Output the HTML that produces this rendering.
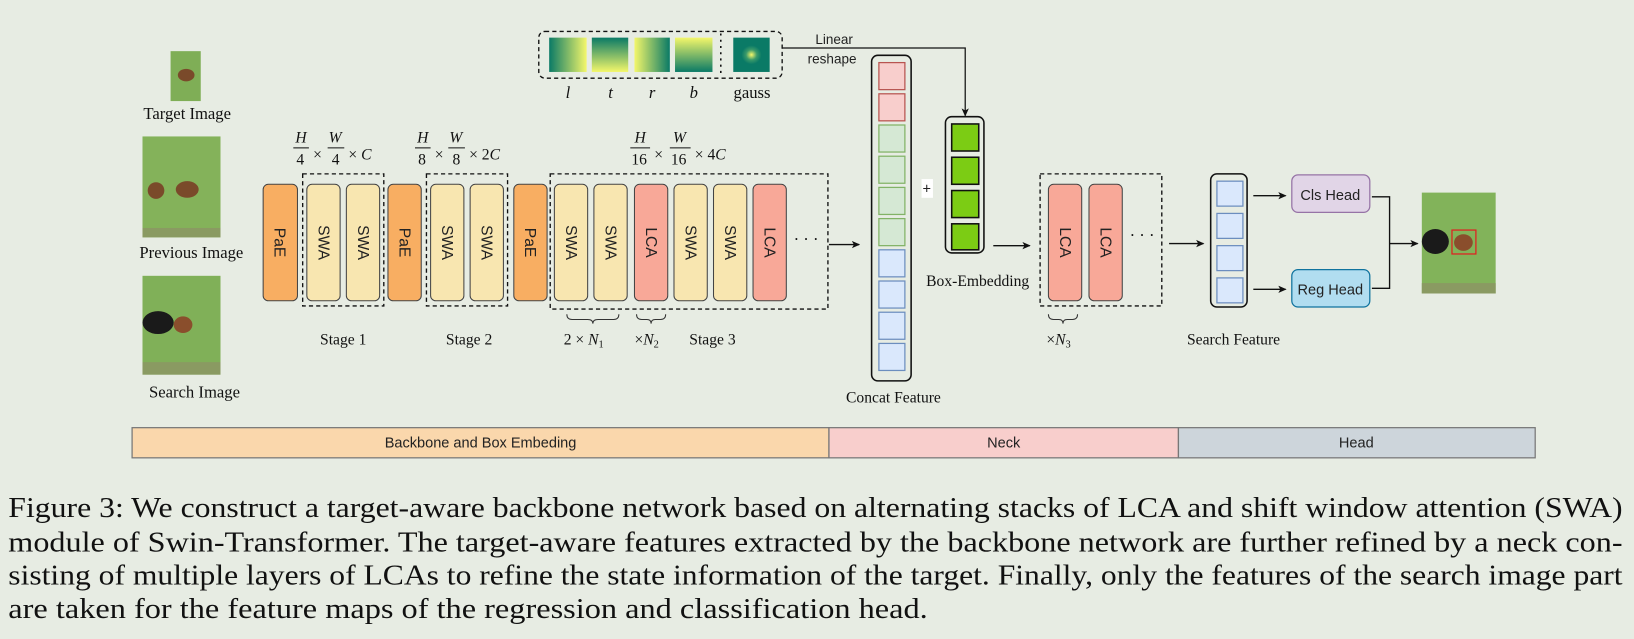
<!DOCTYPE html>
<html><head><meta charset="utf-8"><style>
html,body{margin:0;padding:0;background:#e7ece3;}
svg{display:block}
.s{font-family:"Liberation Serif",serif;fill:#111}
.a{font-family:"Liberation Sans",sans-serif;fill:#222}
</style></head><body>
<svg width="1634" height="639" viewBox="0 0 1571 614" xmlns="http://www.w3.org/2000/svg">
<defs>
<linearGradient id="gl" x1="0" x2="1" y1="0" y2="0"><stop offset="0" stop-color="#0a7a66"/><stop offset="1" stop-color="#f4f76a"/></linearGradient>
<linearGradient id="gr" x1="0" x2="1" y1="0" y2="0"><stop offset="0" stop-color="#f4f76a"/><stop offset="1" stop-color="#0a7a66"/></linearGradient>
<linearGradient id="gt" x1="0" x2="0" y1="0" y2="1"><stop offset="0" stop-color="#0a7a66"/><stop offset="1" stop-color="#f4f76a"/></linearGradient>
<linearGradient id="gb" x1="0" x2="0" y1="0" y2="1"><stop offset="0" stop-color="#f4f76a"/><stop offset="1" stop-color="#0a7a66"/></linearGradient>
<radialGradient id="gg"><stop offset="0" stop-color="#f7f86a"/><stop offset="0.3" stop-color="#3a9a6a"/><stop offset="0.55" stop-color="#0a7a66"/></radialGradient>
<marker id="ar" markerWidth="8" markerHeight="8" refX="7" refY="4" orient="auto" markerUnits="userSpaceOnUse"><path d="M0,0.5 L8,4 L0,7.5 L2,4 z" fill="#111"/></marker>
</defs>
<rect width="1571" height="614" fill="#e7ece3"/>

<!-- images -->
<rect x="164" y="49" width="29" height="48" fill="#7fae56"/>
<ellipse cx="179" cy="72" rx="8" ry="6" fill="#7a4a2a"/>
<text class="s" x="180" y="114" font-size="16" text-anchor="middle">Target Image</text>
<rect x="137" y="131" width="75" height="97" fill="#84b25a"/>
<rect x="137" y="219" width="75" height="9" fill="#8a9a62"/>
<ellipse cx="150" cy="183" rx="8" ry="8" fill="#7a4a2a"/><ellipse cx="180" cy="182" rx="11" ry="8" fill="#7a4a2a"/>
<text class="s" x="184" y="248" font-size="16" text-anchor="middle">Previous Image</text>
<rect x="137" y="265" width="75" height="95" fill="#80b058"/>
<rect x="137" y="348" width="75" height="12" fill="#8a9a62"/>
<ellipse cx="152" cy="310" rx="15" ry="11" fill="#1a1a1a"/><ellipse cx="176" cy="312" rx="9" ry="8" fill="#8a4e2c"/>
<text class="s" x="187" y="382" font-size="16" text-anchor="middle">Search Image</text>

<!-- gauss box -->
<rect x="518" y="30" width="234" height="45" rx="6" fill="none" stroke="#111" stroke-dasharray="4,3" stroke-width="1.3"/>
<rect x="528" y="36" width="36" height="33" fill="url(#gl)"/>
<rect x="569" y="36" width="35" height="33" fill="url(#gt)"/>
<rect x="610" y="36" width="34" height="33" fill="url(#gr)"/>
<rect x="649" y="36" width="36" height="33" fill="url(#gb)"/>
<line x1="693" y1="32" x2="693" y2="74" stroke="#111" stroke-dasharray="2,4" stroke-width="1.5"/>
<rect x="705" y="36" width="35" height="33" fill="url(#gg)"/>
<text class="s" x="546" y="94" font-size="16" font-style="italic" text-anchor="middle">l</text>
<text class="s" x="587" y="94" font-size="16" font-style="italic" text-anchor="middle">t</text>
<text class="s" x="627" y="94" font-size="16" font-style="italic" text-anchor="middle">r</text>
<text class="s" x="667" y="94" font-size="16" font-style="italic" text-anchor="middle">b</text>
<text class="s" x="723" y="94" font-size="16" text-anchor="middle">gauss</text>
<text class="a" x="802" y="42" font-size="13" text-anchor="middle">Linear</text>
<text class="a" x="800" y="61" font-size="13" text-anchor="middle">reshape</text>
<path d="M752,46 H928 V111" fill="none" stroke="#111" stroke-width="1.2" marker-end="url(#ar)"/>

<!-- dims labels -->
<g class="s" font-size="15" font-style="italic">
<text x="284" y="137">H</text><line x1="282" y1="142" x2="297" y2="142" stroke="#111"/><text x="285" y="158" font-style="normal">4</text>
<text x="301" y="153" font-style="normal">×</text>
<text x="316" y="137">W</text><line x1="315" y1="142" x2="331" y2="142" stroke="#111"/><text x="319" y="158" font-style="normal">4</text>
<text x="335" y="153"><tspan font-style="normal">× </tspan>C</text>
<text x="401" y="137">H</text><line x1="399" y1="142" x2="414" y2="142" stroke="#111"/><text x="402" y="158" font-style="normal">8</text>
<text x="418" y="153" font-style="normal">×</text>
<text x="432" y="137">W</text><line x1="431" y1="142" x2="447" y2="142" stroke="#111"/><text x="435" y="158" font-style="normal">8</text>
<text x="451" y="153"><tspan font-style="normal">× 2</tspan>C</text>
<text x="610" y="137">H</text><line x1="606" y1="142" x2="625" y2="142" stroke="#111"/><text x="607" y="158" font-style="normal">16</text>
<text x="629" y="153" font-style="normal">×</text>
<text x="647" y="137">W</text><line x1="644" y1="142" x2="664" y2="142" stroke="#111"/><text x="645" y="158" font-style="normal">16</text>
<text x="668" y="153"><tspan font-style="normal">× 4</tspan>C</text>
</g>

<!-- dashed groups -->
<g fill="none" stroke="#111" stroke-width="1.3" stroke-dasharray="4,3">
<rect x="291" y="167" width="78" height="127"/>
<rect x="410" y="167" width="78" height="127"/>
<rect x="529" y="167" width="267" height="130"/>
<rect x="1000" y="167" width="117" height="127"/>
</g>

<!-- blocks -->
<g stroke="#444" stroke-width="1">
<rect x="253" y="177" width="33" height="112" rx="5" fill="#f8ae62"/>
<rect x="295" y="177" width="32" height="112" rx="5" fill="#f8e6b0"/>
<rect x="333" y="177" width="32" height="112" rx="5" fill="#f8e6b0"/>
<rect x="373" y="177" width="32" height="112" rx="5" fill="#f8ae62"/>
<rect x="414" y="177" width="32" height="112" rx="5" fill="#f8e6b0"/>
<rect x="452" y="177" width="32" height="112" rx="5" fill="#f8e6b0"/>
<rect x="494" y="177" width="32" height="112" rx="5" fill="#f8ae62"/>
<rect x="533" y="177" width="32" height="112" rx="5" fill="#f8e6b0"/>
<rect x="571" y="177" width="32" height="112" rx="5" fill="#f8e6b0"/>
<rect x="610" y="177" width="32" height="112" rx="5" fill="#f8a898"/>
<rect x="648" y="177" width="32" height="112" rx="5" fill="#f8e6b0"/>
<rect x="686" y="177" width="32" height="112" rx="5" fill="#f8e6b0"/>
<rect x="724" y="177" width="32" height="112" rx="5" fill="#f8a898"/>
<rect x="1008" y="177" width="32" height="112" rx="5" fill="#f8a898"/>
<rect x="1047" y="177" width="32" height="112" rx="5" fill="#f8a898"/>
</g>
<g class="a" font-size="15" text-anchor="middle">
<text transform="translate(269,233) rotate(90)" dy="5">PaE</text>
<text transform="translate(311,233) rotate(90)" dy="5">SWA</text>
<text transform="translate(349,233) rotate(90)" dy="5">SWA</text>
<text transform="translate(389,233) rotate(90)" dy="5">PaE</text>
<text transform="translate(430,233) rotate(90)" dy="5">SWA</text>
<text transform="translate(468,233) rotate(90)" dy="5">SWA</text>
<text transform="translate(510,233) rotate(90)" dy="5">PaE</text>
<text transform="translate(549,233) rotate(90)" dy="5">SWA</text>
<text transform="translate(587,233) rotate(90)" dy="5">SWA</text>
<text transform="translate(626,233) rotate(90)" dy="5">LCA</text>
<text transform="translate(664,233) rotate(90)" dy="5">SWA</text>
<text transform="translate(702,233) rotate(90)" dy="5">SWA</text>
<text transform="translate(740,233) rotate(90)" dy="5">LCA</text>
<text transform="translate(1024,233) rotate(90)" dy="5">LCA</text>
<text transform="translate(1063,233) rotate(90)" dy="5">LCA</text>
</g>
<text class="s" x="775" y="235" font-size="16" text-anchor="middle">· · ·</text>
<text class="s" x="1098" y="231" font-size="16" text-anchor="middle">· · ·</text>

<!-- braces -->
<g fill="none" stroke="#333" stroke-width="1">
<path d="M545,302 q0,5 5,5 h15 q5,0 5,4 q0,-4 5,-4 h15 q5,0 5,-5"/>
<path d="M612,302 q0,5 5,5 h5 q4,0 4,4 q0,-4 4,-4 h5 q5,0 5,-5"/>
<path d="M1008,302 q0,5 5,5 h5 q4,0 4,4 q0,-4 4,-4 h5 q5,0 5,-5"/>
</g>
<g class="s" font-size="15">
<text x="330" y="331" text-anchor="middle">Stage 1</text>
<text x="451" y="331" text-anchor="middle">Stage 2</text>
<text x="542" y="331">2 × <tspan font-style="italic">N</tspan><tspan font-size="10" dy="3">1</tspan></text>
<text x="610" y="331">×<tspan font-style="italic">N</tspan><tspan font-size="10" dy="3">2</tspan></text>
<text x="685" y="331" text-anchor="middle">Stage 3</text>
<text x="1006" y="331">×<tspan font-style="italic">N</tspan><tspan font-size="10" dy="3">3</tspan></text>
<text x="1186" y="331" text-anchor="middle">Search Feature</text>
<text x="859" y="387" text-anchor="middle">Concat Feature</text>
<text x="940" y="275" text-anchor="middle">Box-Embedding</text>
</g>

<!-- arrows -->
<g stroke="#111" stroke-width="1.3" marker-end="url(#ar)">
<line x1="797" y1="235" x2="826" y2="235"/>
<line x1="955" y1="236" x2="990" y2="236"/>
<line x1="1124" y1="234" x2="1157" y2="234"/>
<line x1="1205" y1="188" x2="1236" y2="188"/>
<line x1="1205" y1="278" x2="1236" y2="278"/>
<line x1="1336" y1="234" x2="1363" y2="234"/>
</g>
<path d="M1319,189 H1336 V277 H1319" fill="none" stroke="#111" stroke-width="1.3"/>

<!-- concat feature -->
<rect x="838" y="53" width="38" height="313" rx="6" fill="#e7ece3" stroke="#111" stroke-width="1.5"/>
<g stroke-width="1.2">
<rect x="845" y="60" width="25" height="26" fill="#f8cecc" stroke="#b85450"/>
<rect x="845" y="90" width="25" height="26" fill="#f8cecc" stroke="#b85450"/>
<rect x="845" y="120" width="25" height="26" fill="#d5e8d4" stroke="#82b366"/>
<rect x="845" y="150" width="25" height="26" fill="#d5e8d4" stroke="#82b366"/>
<rect x="845" y="180" width="25" height="26" fill="#d5e8d4" stroke="#82b366"/>
<rect x="845" y="210" width="25" height="26" fill="#d5e8d4" stroke="#82b366"/>
<rect x="845" y="240" width="25" height="26" fill="#dae8fc" stroke="#6c8ebf"/>
<rect x="845" y="270" width="25" height="26" fill="#dae8fc" stroke="#6c8ebf"/>
<rect x="845" y="300" width="25" height="26" fill="#dae8fc" stroke="#6c8ebf"/>
<rect x="845" y="330" width="25" height="26" fill="#dae8fc" stroke="#6c8ebf"/>
</g>
<rect x="886" y="172" width="11" height="18" fill="#fff"/>
<text class="a" x="891" y="186" font-size="14" text-anchor="middle" fill="#000">+</text>

<!-- box embedding -->
<rect x="909" y="112" width="37" height="131" rx="6" fill="#e7ece3" stroke="#111" stroke-width="1.5"/>
<g fill="#7ccc14" stroke="#111" stroke-width="1.5">
<rect x="915" y="119" width="26" height="26"/>
<rect x="915" y="151" width="26" height="26"/>
<rect x="915" y="183" width="26" height="26"/>
<rect x="915" y="215" width="26" height="25"/>
</g>

<!-- search feature -->
<rect x="1164" y="167" width="35" height="128" rx="6" fill="#e7ece3" stroke="#111" stroke-width="1.5"/>
<g fill="#dae8fc" stroke="#6c8ebf" stroke-width="1.2">
<rect x="1170" y="174" width="25" height="24"/>
<rect x="1170" y="205" width="25" height="24"/>
<rect x="1170" y="236" width="25" height="24"/>
<rect x="1170" y="267" width="25" height="24"/>
</g>

<!-- heads -->
<rect x="1242" y="168" width="75" height="36" rx="6" fill="#e1d5e7" stroke="#9673a6" stroke-width="1.2"/>
<text class="a" x="1279" y="192" font-size="14" text-anchor="middle">Cls Head</text>
<rect x="1242" y="259" width="75" height="36" rx="6" fill="#b1ddf0" stroke="#10739e" stroke-width="1.2"/>
<text class="a" x="1279" y="283" font-size="14" text-anchor="middle">Reg Head</text>

<!-- result image -->
<rect x="1367" y="185" width="71" height="97" fill="#82b35a"/>
<rect x="1367" y="272" width="71" height="10" fill="#8a9a62"/>
<ellipse cx="1380" cy="232" rx="13" ry="12" fill="#1a1a1a"/>
<ellipse cx="1407" cy="233" rx="9" ry="8" fill="#8a4e2c"/>
<rect x="1396" y="221" width="23" height="23" fill="none" stroke="#e02020" stroke-width="1.2"/>

<!-- bottom bar -->
<rect x="127" y="411" width="670" height="29" fill="#fad7ac" stroke="#777" stroke-width="1.2"/>
<rect x="797" y="411" width="336" height="29" fill="#f8cecc" stroke="#777" stroke-width="1.2"/>
<rect x="1133" y="411" width="343" height="29" fill="#cdd5db" stroke="#777" stroke-width="1.2"/>
<text class="a" x="462" y="430" font-size="14" text-anchor="middle">Backbone and Box Embeding</text>
<text class="a" x="965" y="430" font-size="14" text-anchor="middle">Neck</text>
<text class="a" x="1304" y="430" font-size="14" text-anchor="middle">Head</text>

<!-- caption -->
<g class="s" font-size="27">
<text x="8" y="497" textLength="1552" lengthAdjust="spacingAndGlyphs">Figure 3: We construct a target-aware backbone network based on alternating stacks of LCA and shift window attention (SWA)</text>
<text x="8" y="530" textLength="1552" lengthAdjust="spacingAndGlyphs">module of Swin-Transformer. The target-aware features extracted by the backbone network are further refined by a neck con-</text>
<text x="8" y="562" textLength="1552" lengthAdjust="spacingAndGlyphs">sisting of multiple layers of LCAs to refine the state information of the target. Finally, only the features of the search image part</text>
<text x="8" y="594" textLength="884" lengthAdjust="spacingAndGlyphs">are taken for the feature maps of the regression and classification head.</text>
</g>
</svg>
</body></html>
